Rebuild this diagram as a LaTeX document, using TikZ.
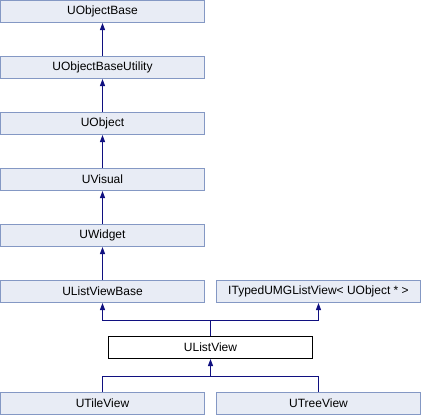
\documentclass[tikz,border=0pt]{standalone}
\usepackage{fontspec}
\setmainfont{Liberation Sans}
\usetikzlibrary{arrows.meta}
\definecolor{boxfill}{RGB}{232,236,245}
\definecolor{boxline}{RGB}{132,152,196}
\definecolor{arrowblue}{RGB}{16,16,128}
\begin{document}
\begin{tikzpicture}
[x=1pt,y=-1pt,classbox/.style={draw=boxline,fill=boxfill,line width=1pt,minimum width=204pt,minimum height=22pt,inner sep=0pt,font=\fontsize{12}{14}\selectfont},thisbox/.style={classbox,draw=black,fill=white},navyarrow/.style={-{Triangle[length=7pt,width=5pt]},arrowblue,line width=1pt},navyline/.style={arrowblue,line width=1pt}]
\useasboundingbox (0,0) rectangle (422,416);

% base chain
\node[classbox](objbase) at (102.5,11.5){UObjectBase};
\node[classbox](objutil) at (102.5,67.5){UObjectBaseUtility};
\node[classbox](uobject) at (102.5,123.5){UObject};
\node[classbox](visual) at (102.5,179.5){UVisual};
\node[classbox](widget) at (102.5,235.5){UWidget};
\node[classbox](lvbase) at (102.5,291.5){UListViewBase};
\draw[navyarrow] (objutil.north) -- (objbase.south);
\draw[navyarrow] (uobject.north) -- (objutil.south);
\draw[navyarrow] (visual.north) -- (uobject.south);
\draw[navyarrow] (widget.north) -- (visual.south);
\draw[navyarrow] (lvbase.north) -- (widget.south);

% interface
\node[classbox](typed) at (318.5,291.5){ITypedUMGListView< UObject * >};

% list view
\node[thisbox](listview) at (210.5,347.5){UListView};
\coordinate (upjoin) at (210.5,320.5);
\draw[navyline] (listview.north) -- (upjoin);
\draw[navyarrow] (upjoin) -| (lvbase.south);
\draw[navyarrow] (upjoin) -| (typed.south);

% derived views
\node[classbox](tile) at (102.5,403.5){UTileView};
\node[classbox](tree) at (318.5,403.5){UTreeView};
\coordinate (lowjoin) at (210.5,376.5);
\draw[navyline] (tile.north) |- (lowjoin);
\draw[navyline] (tree.north) |- (lowjoin);
\draw[navyarrow] (lowjoin) -- (listview.south);

\end{tikzpicture}
\end{document}
